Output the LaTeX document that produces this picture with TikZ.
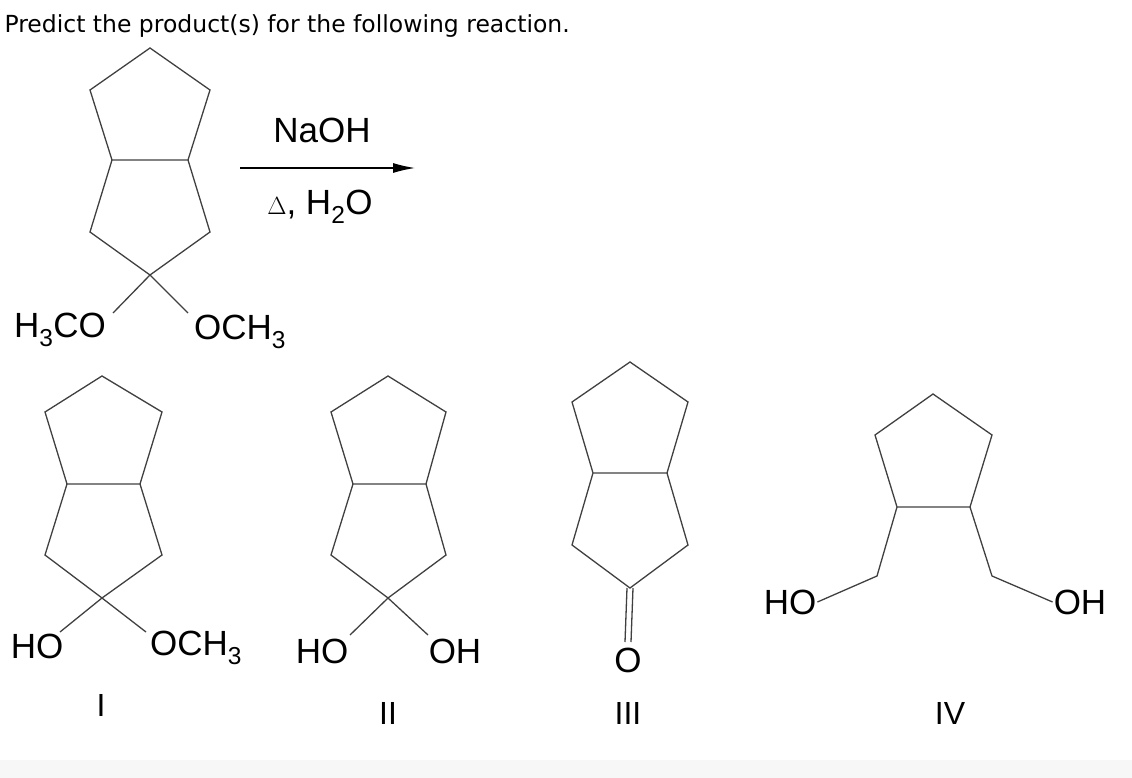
\documentclass[tikz,border=0pt]{standalone}
\usetikzlibrary{arrows.meta}
\usepackage{fontspec}
\setmainfont{Liberation Sans}
\newfontfamily\titlefont{DejaVu Sans}
\begin{document}
\begin{tikzpicture}[x=1pt,y=-1pt,
  bond/.style={line width=1.3pt,draw=black!75},
  lbl/.style={font=\fontsize{35}{37}\selectfont,inner sep=1pt},
  num/.style={font=\fontsize{32}{34}\selectfont}]
\useasboundingbox (0,0) rectangle (1132,778);
\fill[black!3] (0,760) rectangle (1132,778);
\node[anchor=west,font=\titlefont\fontsize{23.5}{26}\selectfont] (title) at (1,26) {Predict the product(s) for the following reaction.};
% reactant
\coordinate (a1) at (150,48); \coordinate (a2) at (90,90); \coordinate (a3) at (112,160);
\coordinate (a4) at (188,160); \coordinate (a5) at (210,90);
\coordinate (a6) at (90,232); \coordinate (a7) at (150,275); \coordinate (a8) at (210,232);
\draw[bond] (a3)--(a2)--(a1)--(a5)--(a4)--(a3)--(a6)--(a7)--(a8)--(a4);
\node[lbl] (r1) at (60,330) {H\textsubscript{3}CO};
\node[lbl] (r2) at (240,332) {OCH\textsubscript{3}};
\draw[bond] (a7)--(113,313); \draw[bond] (a7)--(188,313);
% arrow
\coordinate (s) at (240,168); \coordinate (e) at (415,168);
\draw[line width=1.3pt,-{Latex[length=22pt,width=10pt]}] (s)--(e);
\node[lbl] (c1) at (322,130) {NaOH};
\node[lbl] (c2) at (320,207) {$\Delta$, H\textsubscript{2}O};
% product I
\coordinate (b1) at (102,376); \coordinate (b2) at (45,412); \coordinate (b3) at (67,484);
\coordinate (b4) at (140,484); \coordinate (b5) at (162,412);
\coordinate (b6) at (45,555); \coordinate (b7) at (102,598); \coordinate (b8) at (162,555);
\draw[bond] (b3)--(b2)--(b1)--(b5)--(b4)--(b3)--(b6)--(b7)--(b8)--(b4);
\node[lbl] (i1) at (37,646) {HO};
\node[lbl] (i2) at (196,648) {OCH\textsubscript{3}};
\draw[bond] (b7)--(60,632); \draw[bond] (b7)--(146,632);
\node[num] (n1) at (101,705) {I};
% product II
\coordinate (c1a) at (388,376); \coordinate (c2a) at (331,412); \coordinate (c3a) at (353,484);
\coordinate (c4a) at (426,484); \coordinate (c5a) at (446,412);
\coordinate (c6a) at (331,555); \coordinate (c7a) at (388,598); \coordinate (c8a) at (446,555);
\draw[bond] (c3a)--(c2a)--(c1a)--(c5a)--(c4a)--(c3a)--(c6a)--(c7a)--(c8a)--(c4a);
\node[lbl] (h1) at (322,651) {HO};
\node[lbl] (h2) at (455,651) {OH};
\draw[bond] (c7a)--(350,635); \draw[bond] (c7a)--(428,635);
\node[num] (n2) at (388,713) {II};
% product III
\coordinate (d1) at (630,362); \coordinate (d2) at (572,402); \coordinate (d3) at (593,473);
\coordinate (d4) at (667,473); \coordinate (d5) at (688,402);
\coordinate (d6) at (572,545); \coordinate (d7) at (630,588); \coordinate (d8) at (688,545);
\draw[bond] (d3)--(d2)--(d1)--(d5)--(d4)--(d3)--(d6)--(d7)--(d8)--(d4);
\node[lbl] (o3) at (628,660) {O};
\draw[bond] ([xshift=-3pt]d7)--([xshift=-3pt]628,642);
\draw[bond] ([xshift=3pt]d7)--([xshift=3pt]628,642);
\node[num] (n3) at (628,713) {III};
% product IV
\coordinate (f1) at (933,394); \coordinate (f2) at (875,435); \coordinate (f3) at (897,507);
\coordinate (f4) at (970,507); \coordinate (f5) at (992,435);
\draw[bond] (f3)--(f2)--(f1)--(f5)--(f4)--(f3);
\node[lbl] (g1) at (790,602) {HO};
\node[lbl] (g2) at (1080,602) {OH};
\draw[bond] (f3)--(877,576)--(g1.east);
\draw[bond] (f4)--(992,576)--(g2.west);
\node[num] (n4) at (950,713) {IV};
\end{tikzpicture}
\end{document}
